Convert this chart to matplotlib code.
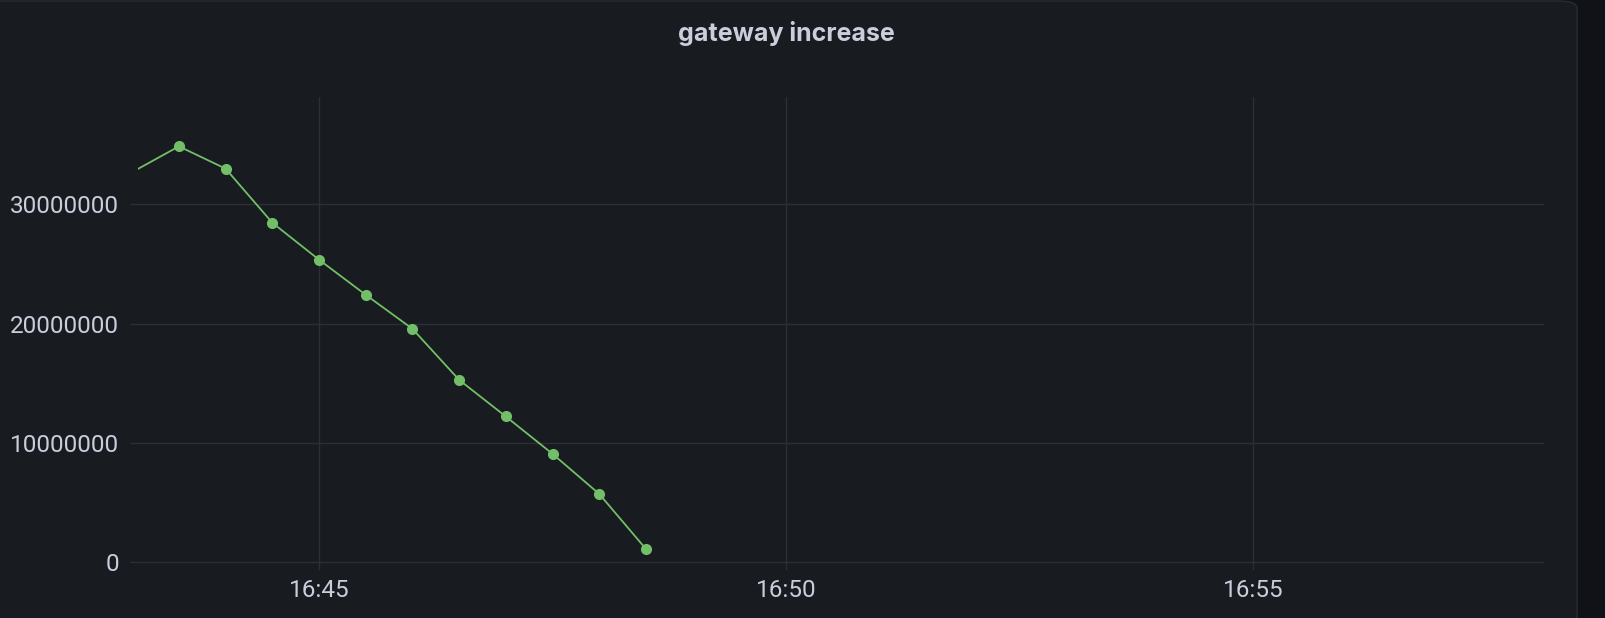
import numpy as np, pandas as pd, matplotlib
matplotlib.use("Agg")
import matplotlib.pyplot as plt
import matplotlib.dates as mdates
from matplotlib.patches import FancyBboxPatch, Rectangle

plt.rcParams["font.family"] = ["Roboto", "DejaVu Sans"]

# ---- data ----
times = ["16:43:00", "16:43:30", "16:44:00", "16:44:30", "16:45:00", "16:45:30",
         "16:46:00", "16:46:30", "16:47:00", "16:47:30", "16:48:00", "16:48:30"]
values = [32.7, 34.86, 32.99, 28.46, 25.36, 22.42,
          19.57, 15.29, 12.22, 9.09, 5.73, 1.12]  # millions
x_start, x_end = "16:42:58.6", "16:58:06.9"

day = "2024-01-01 "
t = pd.to_datetime([day + s for s in times])
v = np.array(values) * 1e6

BG = "#181b1f"
OUTER = "#111217"
TXT = "#ccccdc"
GRID = "#2c2f34"
GREEN = "#73bf69"

W, H = 1606, 618
fig = plt.figure(figsize=(W / 100, H / 100), dpi=100)
fig.patch.set_facecolor(OUTER)

# panel background with rounded corner at the top right
panel = FancyBboxPatch((-20 / W, -20 / H), (1577 + 20) / W, (H + 19) / H,
                       boxstyle="round,pad=0,rounding_size=0.012",
                       transform=fig.transFigure, facecolor=BG,
                       edgecolor="#26292e", linewidth=1.2, zorder=-5)
fig.patches.append(panel)

L, R, T, B = 130, 1544, 96.7, 570.3
ax = fig.add_axes([L / W, (H - B) / H, (R - L) / W, (B - T) / H])
ax.set_zorder(2)
ax.patch.set_alpha(0)

# line with markers; the first point sits on the left edge, no marker drawn there
line, = ax.plot(t, v, color=GREEN, lw=1.3, marker="o", ms=7,
                markevery=list(range(1, len(v))), zorder=3)
# grafana clips the series a few px inside the grid area
line.set_clip_path(Rectangle((8 / (R - L), -0.1), 1.2, 1.2, transform=ax.transAxes))

ax.set_xlim(pd.Timestamp(day + x_start), pd.Timestamp(day + x_end))
ax.set_ylim(-0.67e6, 39.02e6)

ax.xaxis.set_major_locator(mdates.MinuteLocator(byminute=range(0, 60, 5)))
ax.xaxis.set_major_formatter(mdates.DateFormatter("%H:%M"))
ax.set_yticks([0, 10e6, 20e6, 30e6])
ax.yaxis.set_major_formatter(matplotlib.ticker.FuncFormatter(lambda y, _: f"{int(round(y))}"))

ax.grid(True, color=GRID, lw=1.0)
ax.set_axisbelow(True)
for s in ax.spines.values():
    s.set_visible(False)
ax.tick_params(axis="both", length=0, colors=TXT, labelsize=17.5)
ax.tick_params(axis="y", pad=8)
ax.tick_params(axis="x", pad=6)

fig.text(786 / W, 1 - 33 / H, "gateway increase", ha="center", va="center",
         color=TXT, fontsize=18, fontweight="bold", family=["Inter", "DejaVu Sans"],
         zorder=3)

fig.savefig("out.png", dpi=100, facecolor=fig.get_facecolor())
